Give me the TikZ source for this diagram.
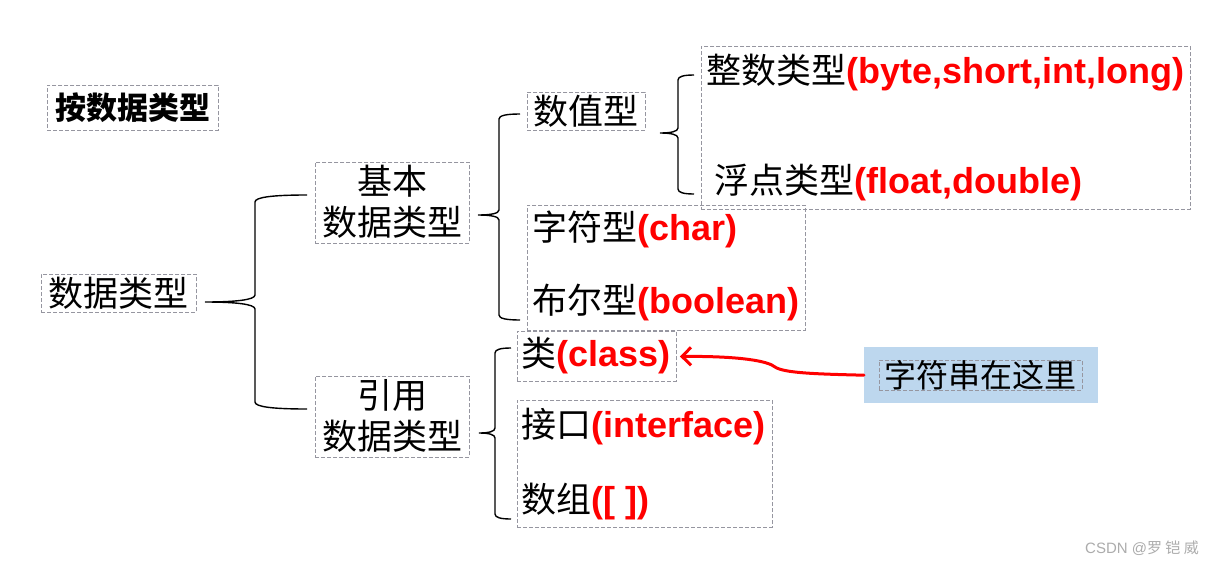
\documentclass[tikz,border=0pt]{standalone}
\usepackage{fontspec}
\setmainfont{Noto Sans CJK SC}
\newfontfamily\lat{Liberation Sans}
\usetikzlibrary{arrows.meta,calc}
\definecolor{dashgray}{RGB}{150,150,160}
\definecolor{bluefill}{RGB}{189,215,238}
\newcommand\rd[1]{{\lat\bfseries\fontsize{36}{41}\selectfont\color{red}#1}}
\tikzset{
  dbox/.style={draw=dashgray, dash pattern=on 4pt off 2pt, line width=0.9pt, inner sep=0pt, anchor=north west},
  txt/.style={inner sep=0pt, anchor=west, font=\fontsize{35}{41}\selectfont},
  ctxt/.style={inner sep=0pt, anchor=center, align=center, font=\fontsize{35}{41}\selectfont},
  brc/.style={line width=1.4pt, line join=round},
  % #1 = distance tip->spine, #2 = spine offset at middle, #3 = spine offset at end
  brup/.style n args={3}{to path={let \p1=(\tikztostart), \p2=(\tikztotarget) in
     (\p1) .. controls (\x1+0.6*#1,\y1) and (\x1+#1,\y1+0.3*#2) .. (\x1+#1,\y1+#2)
     -- (\x1+#1,\y2-#3) .. controls (\x1+#1,\y2-0.3*#3) and ($(\x1+#1,\y2)!0.35!(\p2)$) .. (\p2)}},
  brdn/.style n args={3}{to path={let \p1=(\tikztostart), \p2=(\tikztotarget) in
     (\p1) .. controls (\x1+0.6*#1,\y1) and (\x1+#1,\y1-0.3*#2) .. (\x1+#1,\y1-#2)
     -- (\x1+#1,\y2+#3) .. controls (\x1+#1,\y2+0.3*#3) and ($(\x1+#1,\y2)!0.35!(\p2)$) .. (\p2)}},
}
\begin{document}
\begin{tikzpicture}[x=1pt,y=-1pt]
\useasboundingbox (0,0) rectangle (1219,565);
\fill[white] (0,0) rectangle (1219,565);

% title
\node[dbox, minimum width=171pt, minimum height=45pt] (titlebox) at (47,85) {};
\node[ctxt, font=\fontsize{31}{36}\selectfont\bfseries] (title) at (titlebox.center) {按数据类型};

% root
\node[dbox, minimum width=155pt, minimum height=38pt] (rootbox) at (41,274) {};
\node[ctxt] (root) at (rootbox.center) {数据类型};

% basic / reference
\node[dbox, minimum width=154pt, minimum height=81pt] (basicbox) at (315,162) {};
\node[ctxt] (basic) at ([yshift=1pt]basicbox.center) {基本\\数据类型};
\node[dbox, minimum width=154pt, minimum height=81pt] (refbox) at (315,376) {};
\node[ctxt] (ref) at ([yshift=1pt]refbox.center) {引用\\数据类型};

% numeric
\node[dbox, minimum width=118pt, minimum height=38pt] (numbox) at (527,92) {};
\node[ctxt] (num) at (numbox.center) {数值型};

% int / float
\node[dbox, minimum width=489pt, minimum height=163pt] (ifbox) at (701,46) {};
\node[txt] (int) at (706,73) {整数类型\rd{(byte,short,int,long)}};
\node[txt] (flt) at (714,183) {浮点类型\rd{(float,double)}};

% char / boolean
\node[dbox, minimum width=278pt, minimum height=125pt] (cbbox) at (527,205) {};
\node[txt] (chr) at (532,229) {字符型\rd{(char)}};
\node[txt] (bool) at (532,303) {布尔型\rd{(boolean)}};

% class
\node[dbox, minimum width=159pt, minimum height=50pt] (clsbox) at (517,331) {};
\node[txt] (cls) at (521,356) {类\rd{(class)}};

% interface / array
\node[dbox, minimum width=255pt, minimum height=127pt] (iabox) at (517,400) {};
\node[txt] (itf) at (521,427) {接口\rd{(interface)}};
\node[txt] (arr) at (521,502) {数组\rd{([ ])}};

% note
\node[fill=bluefill, minimum width=234pt, minimum height=56pt, inner sep=0pt, anchor=north west] (note) at (864,347) {};
\node[dbox, minimum width=203pt, minimum height=30pt, anchor=center] (notein) at ([xshift=-0.5pt]note.center) {};
\node[ctxt, font=\fontsize{32}{36}\selectfont] (notetxt) at (notein.center) {字符串在这里};

% brace anchor points
\coordinate (t1) at (205,302); \coordinate (u1) at (307,195); \coordinate (d1) at (307,409);
\coordinate (t2) at (478,215); \coordinate (u2) at (520,114); \coordinate (d2) at (520,320);
\coordinate (t3) at (660,133); \coordinate (u3) at (694,75);  \coordinate (d3) at (694,194);
\coordinate (t4) at (479,433); \coordinate (u4) at (511,348); \coordinate (d4) at (511,519);

\draw[brc] (t1) to[brup={50pt}{7pt}{7pt}] (u1) (t1) to[brdn={50pt}{7pt}{7pt}] (d1);
\draw[brc] (t2) to[brup={21pt}{5pt}{5pt}] (u2) (t2) to[brdn={21pt}{5pt}{5pt}] (d2);
\draw[brc] (t3) to[brup={18pt}{5pt}{5pt}] (u3) (t3) to[brdn={18pt}{5pt}{5pt}] (d3);
\draw[brc] (t4) to[brup={16pt}{5pt}{5pt}] (u4) (t4) to[brdn={16pt}{5pt}{5pt}] (d4);

% red arrow
\draw[red, line width=3pt, line cap=round, -{Straight Barb[length=9pt,width=18pt]}]
  (note.west) .. controls (815,374) and (784,373) .. (775,367)
  .. controls (768,361) and (740,356) .. ([xshift=3pt]clsbox.east);

% watermark
\node[inner sep=0pt, text=gray!65, font=\fontsize{15}{17}\selectfont] (wm) at (1142,548) {{\lat CSDN @}罗 铠 威};
\end{tikzpicture}
\end{document}
